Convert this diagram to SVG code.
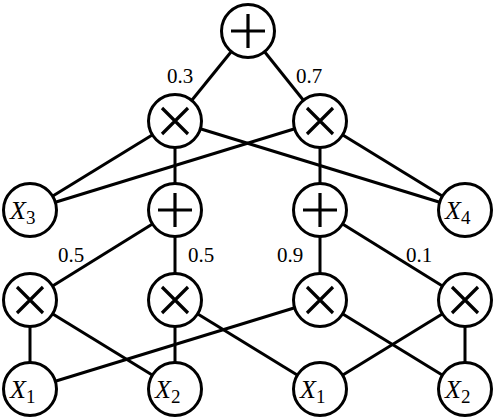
<svg xmlns="http://www.w3.org/2000/svg" width="497" height="420" viewBox="0 0 497 420">
<style>
.n{fill:#fff;stroke:#000;stroke-width:3}
.e{stroke:#000;stroke-width:3;fill:none}
.op{stroke:#000;stroke-width:3.2;fill:none}
.w{font-family:"Liberation Serif",serif;font-size:21px;fill:#000}
.v{font-family:"Liberation Serif",serif;font-size:26px;font-style:italic;fill:#000}
.s{font-family:"Liberation Serif",serif;font-size:19px;font-style:normal}
</style>
<rect width="497" height="420" fill="#fff"/>
<g id="connectors">
<line class="e" x1="248" y1="31" x2="175" y2="121"/>
<line class="e" x1="248" y1="31" x2="320" y2="121"/>
<line class="e" x1="175" y1="121" x2="30" y2="210"/>
<line class="e" x1="175" y1="121" x2="175" y2="210"/>
<line class="e" x1="175" y1="121" x2="465" y2="210"/>
<line class="e" x1="320" y1="121" x2="30" y2="210"/>
<line class="e" x1="320" y1="121" x2="320" y2="210"/>
<line class="e" x1="320" y1="121" x2="465" y2="210"/>
<line class="e" x1="175" y1="210" x2="30" y2="300"/>
<line class="e" x1="175" y1="210" x2="175" y2="300"/>
<line class="e" x1="320" y1="210" x2="320" y2="300"/>
<line class="e" x1="320" y1="210" x2="465" y2="300"/>
<line class="e" x1="30" y1="300" x2="30" y2="389"/>
<line class="e" x1="30" y1="300" x2="175" y2="389"/>
<line class="e" x1="175" y1="300" x2="175" y2="389"/>
<line class="e" x1="175" y1="300" x2="320" y2="389"/>
<line class="e" x1="320" y1="300" x2="30" y2="389"/>
<line class="e" x1="320" y1="300" x2="465" y2="389"/>
<line class="e" x1="465" y1="300" x2="320" y2="389"/>
<line class="e" x1="465" y1="300" x2="465" y2="389"/>
</g>
<g id="weights">
<text class="w" x="167" y="83">0.3</text>
<text class="w" x="296" y="83">0.7</text>
<text class="w" x="58" y="262">0.5</text>
<text class="w" x="188" y="262">0.5</text>
<text class="w" x="277" y="262">0.9</text>
<text class="w" x="406" y="262">0.1</text>
</g>
<g id="sum-top"><circle class="n" cx="248" cy="31" r="26.5"/><path class="op" d="M231 31H265M248 14V48"/></g>
<g id="prod-l"><circle class="n" cx="175" cy="121" r="26.5"/><path class="op" d="M162 108L188 134M188 108L162 134"/></g>
<g id="prod-r"><circle class="n" cx="320" cy="121" r="26.5"/><path class="op" d="M307 108L333 134M333 108L307 134"/></g>
<g id="x3"><circle class="n" cx="30" cy="210" r="26.5"/><text class="v" x="10" y="219">X<tspan class="s" dy="5">3</tspan></text></g>
<g id="sum-l"><circle class="n" cx="175" cy="210" r="26.5"/><path class="op" d="M158 210H192M175 193V227"/></g>
<g id="sum-r"><circle class="n" cx="320" cy="210" r="26.5"/><path class="op" d="M303 210H337M320 193V227"/></g>
<g id="x4"><circle class="n" cx="465" cy="210" r="26.5"/><text class="v" x="445" y="219">X<tspan class="s" dy="5">4</tspan></text></g>
<g id="prod-1"><circle class="n" cx="30" cy="300" r="26.5"/><path class="op" d="M17 287L43 313M43 287L17 313"/></g>
<g id="prod-2"><circle class="n" cx="175" cy="300" r="26.5"/><path class="op" d="M162 287L188 313M188 287L162 313"/></g>
<g id="prod-3"><circle class="n" cx="320" cy="300" r="26.5"/><path class="op" d="M307 287L333 313M333 287L307 313"/></g>
<g id="prod-4"><circle class="n" cx="465" cy="300" r="26.5"/><path class="op" d="M452 287L478 313M478 287L452 313"/></g>
<g id="x1a"><circle class="n" cx="30" cy="389" r="26.5"/><text class="v" x="10" y="398">X<tspan class="s" dy="5">1</tspan></text></g>
<g id="x2a"><circle class="n" cx="175" cy="389" r="26.5"/><text class="v" x="155" y="398">X<tspan class="s" dy="5">2</tspan></text></g>
<g id="x1b"><circle class="n" cx="320" cy="389" r="26.5"/><text class="v" x="300" y="398">X<tspan class="s" dy="5">1</tspan></text></g>
<g id="x2b"><circle class="n" cx="465" cy="389" r="26.5"/><text class="v" x="445" y="398">X<tspan class="s" dy="5">2</tspan></text></g>
</svg>
